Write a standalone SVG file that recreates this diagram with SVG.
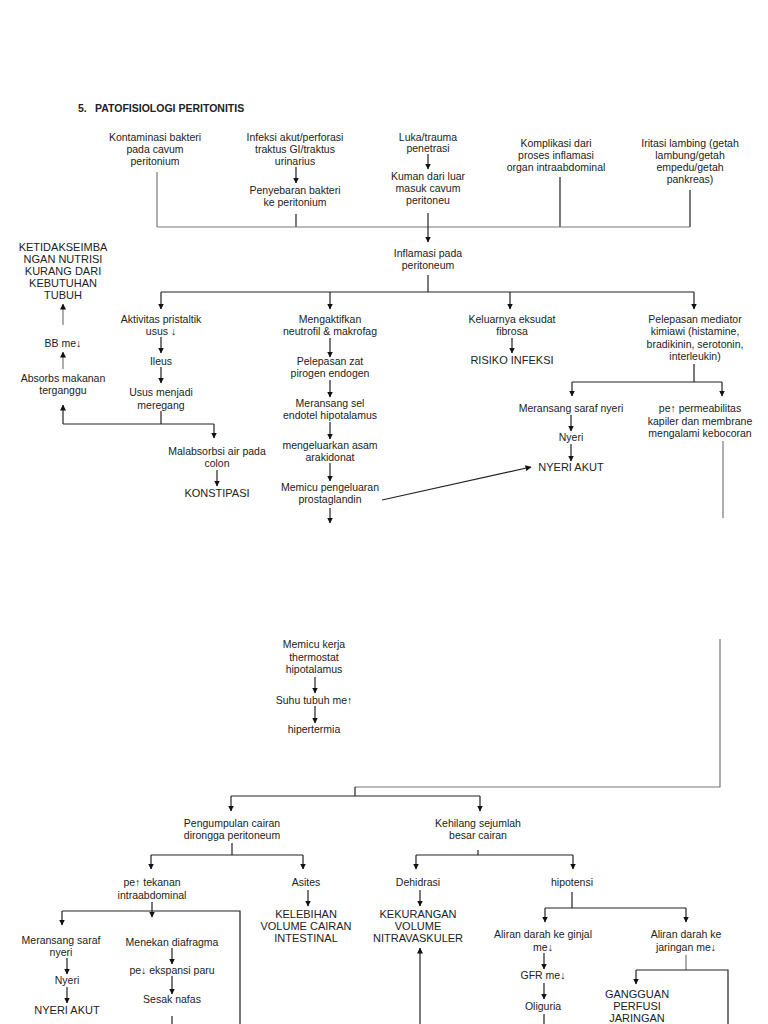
<svg xmlns="http://www.w3.org/2000/svg" width="768" height="1024" viewBox="0 0 768 1024">
<defs>
<marker id="a" viewBox="0 0 6 6" refX="5.5" refY="3" markerWidth="6" markerHeight="6" markerUnits="userSpaceOnUse" orient="auto"><path d="M0,0 L6,3 L0,6 z" fill="#111"/></marker>
<style>
text{font-family:"Liberation Sans",Arial,sans-serif;font-size:10.5px;fill:#222;text-anchor:middle}
.b{font-weight:bold;text-anchor:start;font-size:10.5px}
.u{font-size:11px}
line,polyline{stroke:#222;stroke-width:1.2;fill:none}
.ar{marker-end:url(#a)}
.g{stroke:#777}
</style>
</defs>
<rect width="768" height="1024" fill="#fff"/>
<text class="b" x="78" y="112">5.</text><text class="b" x="95" y="112">PATOFISIOLOGI PERITONITIS</text>
<g id="connectors">
<line class="g" x1="157" y1="172" x2="157" y2="227"/>
<line class="ar" x1="296" y1="167" x2="296" y2="183"/>
<line x1="296" y1="214" x2="296" y2="227"/>
<line class="ar" x1="428" y1="154" x2="428" y2="169"/>
<line x1="560" y1="177" x2="560" y2="227"/>
<line x1="690" y1="190" x2="690" y2="227"/>
<line class="g" x1="157" y1="227" x2="690" y2="227"/>
<line class="ar" x1="428" y1="213" x2="428" y2="242"/>
<line x1="428" y1="275" x2="428" y2="292"/>
<line x1="161" y1="292" x2="694" y2="292"/>
<line class="ar" x1="161" y1="292" x2="161" y2="309"/>
<line class="ar" x1="330" y1="292" x2="330" y2="309"/>
<line class="ar" x1="510" y1="292" x2="510" y2="309"/>
<line class="ar" x1="694" y1="292" x2="694" y2="309"/>
<line class="ar" x1="161" y1="337" x2="161" y2="353"/>
<line class="ar" x1="161" y1="367" x2="161" y2="383"/>
<polyline points="161,411 161,424"/>
<polyline points="63,424 214,424"/>
<line class="ar" x1="214" y1="424" x2="214" y2="438"/>
<line class="ar" x1="63" y1="424" x2="63" y2="405"/>
<line class="ar" x1="217" y1="470" x2="217" y2="486"/>
<line class="g ar" x1="63" y1="369" x2="63" y2="352"/>
<line class="g ar" x1="63" y1="325" x2="63" y2="304"/>
<line class="ar" x1="330" y1="338" x2="330" y2="357"/>
<line class="ar" x1="330" y1="380" x2="330" y2="397"/>
<line class="ar" x1="330" y1="422" x2="330" y2="439"/>
<line class="ar" x1="330" y1="463" x2="330" y2="481"/>
<line class="ar" x1="330" y1="508" x2="330" y2="523"/>
<line class="ar" x1="382" y1="500" x2="531" y2="467"/>
<line class="ar" x1="512" y1="338" x2="512" y2="353"/>
<line x1="694" y1="364" x2="694" y2="382"/>
<polyline points="572,382 722,382"/>
<line class="ar" x1="572" y1="382" x2="572" y2="396"/>
<line class="ar" x1="722" y1="382" x2="722" y2="396"/>
<line class="ar" x1="571" y1="415" x2="571" y2="431"/>
<line class="ar" x1="571" y1="444" x2="571" y2="461"/>
<line class="g" x1="723" y1="441" x2="723" y2="518"/>
<polyline class="g" points="720,639 720,787 355,787"/>
<polyline points="355,787 355,796"/>
<polyline points="231,796 480,796"/>
<line class="ar" x1="231" y1="796" x2="231" y2="811"/>
<line class="ar" x1="480" y1="796" x2="480" y2="811"/>
<line class="ar" x1="315" y1="677" x2="315" y2="693"/>
<line class="ar" x1="315" y1="706" x2="315" y2="723"/>
<line x1="232" y1="843" x2="232" y2="855"/>
<polyline points="151,855 303,855"/>
<line class="ar" x1="151" y1="855" x2="151" y2="869"/>
<line class="ar" x1="303" y1="855" x2="303" y2="869"/>
<line class="ar" x1="152" y1="902" x2="152" y2="917"/>
<polyline points="62,911 240,911 240,1024"/>
<line class="ar" x1="62" y1="911" x2="62" y2="925"/>
<line class="ar" x1="67" y1="958" x2="67" y2="974"/>
<line class="ar" x1="67" y1="987" x2="67" y2="1003"/>
<line class="ar" x1="172" y1="948" x2="172" y2="964"/>
<line class="ar" x1="172" y1="976" x2="172" y2="994"/>
<line x1="172" y1="1016" x2="172" y2="1024"/>
<line class="ar" x1="308" y1="890" x2="308" y2="906"/>
<line x1="478" y1="850" x2="478" y2="855"/>
<polyline points="416,855 573,855"/>
<line class="ar" x1="416" y1="855" x2="416" y2="869"/>
<line class="ar" x1="573" y1="855" x2="573" y2="869"/>
<line class="ar" x1="420" y1="890" x2="420" y2="906"/>
<line class="ar" x1="420" y1="1024" x2="420" y2="948"/>
<line x1="572" y1="892" x2="572" y2="908"/>
<polyline points="545,908 686,908"/>
<line class="ar" x1="545" y1="908" x2="545" y2="922"/>
<line class="ar" x1="686" y1="908" x2="686" y2="922"/>
<line class="ar" x1="544" y1="953" x2="544" y2="969"/>
<line class="ar" x1="544" y1="983" x2="544" y2="999"/>
<line x1="544" y1="1014" x2="544" y2="1024"/>
<line class="g" x1="686" y1="955" x2="686" y2="970"/>
<polyline points="636,970 728,970 728,1024"/>
<line class="ar" x1="636" y1="970" x2="636" y2="984"/>
</g>
<g id="n1"><text x="155" y="141">Kontaminasi bakteri</text><text x="155" y="153">pada cavum</text><text x="155" y="165">peritonium</text></g>
<g id="n2"><text x="295" y="141">Infeksi akut/perforasi</text><text x="295" y="153">traktus GI/traktus</text><text x="295" y="165">urinarius</text></g>
<g id="n3"><text x="295" y="194">Penyebaran bakteri</text><text x="295" y="206">ke peritonium</text></g>
<g id="n4"><text x="428" y="141">Luka/trauma</text><text x="428" y="152">penetrasi</text></g>
<g id="n5"><text x="428" y="180">Kuman dari luar</text><text x="428" y="192">masuk cavum</text><text x="428" y="204">peritoneu</text></g>
<g id="n6"><text x="556" y="147">Komplikasi dari</text><text x="556" y="159">proses inflamasi</text><text x="556" y="171">organ intraabdominal</text></g>
<g id="n7"><text x="690" y="147">Iritasi lambing (getah</text><text x="690" y="159">lambung/getah</text><text x="690" y="171">empedu/getah</text><text x="690" y="183">pankreas)</text></g>
<g id="n8"><text x="428" y="257">Inflamasi pada</text><text x="428" y="269">peritoneum</text></g>
<g id="n9"><text class="u" x="63" y="251">KETIDAKSEIMBA</text><text class="u" x="63" y="263">NGAN NUTRISI</text><text class="u" x="63" y="275">KURANG DARI</text><text class="u" x="63" y="287">KEBUTUHAN</text><text class="u" x="63" y="299">TUBUH</text></g>
<g id="n10"><text x="63" y="347">BB me↓</text></g>
<g id="n11"><text x="63" y="382">Absorbs makanan</text><text x="63" y="394">terganggu</text></g>
<g id="n12"><text x="161" y="323">Aktivitas pristaltik</text><text x="161" y="335">usus ↓</text></g>
<g id="n13"><text x="161" y="365">Ileus</text></g>
<g id="n14"><text x="161" y="396">Usus menjadi</text><text x="161" y="409">meregang</text></g>
<g id="n15"><text x="217" y="455">Malabsorbsi air pada</text><text x="217" y="467">colon</text></g>
<g id="n16"><text class="u" x="217" y="497">KONSTIPASI</text></g>
<g id="n17"><text x="330" y="323">Mengaktifkan</text><text x="330" y="335">neutrofil &amp; makrofag</text></g>
<g id="n18"><text x="330" y="365">Pelepasan zat</text><text x="330" y="377">pirogen endogen</text></g>
<g id="n19"><text x="330" y="407">Meransang sel</text><text x="330" y="419">endotel hipotalamus</text></g>
<g id="n20"><text x="330" y="449">mengeluarkan asam</text><text x="330" y="461">arakidonat</text></g>
<g id="n21"><text x="330" y="491">Memicu pengeluaran</text><text x="330" y="503">prostaglandin</text></g>
<g id="n22"><text x="512" y="323">Keluarnya eksudat</text><text x="512" y="335">fibrosa</text></g>
<g id="n23"><text class="u" x="512" y="364">RISIKO INFEKSI</text></g>
<g id="n24"><text x="695" y="323">Pelepasan mediator</text><text x="695" y="335">kimiawi (histamine,</text><text x="695" y="348">bradikinin, serotonin,</text><text x="695" y="360">interleukin)</text></g>
<g id="n25"><text x="571" y="412">Meransang saraf nyeri</text></g>
<g id="n26"><text x="571" y="441">Nyeri</text></g>
<g id="n27"><text class="u" x="571" y="471">NYERI AKUT</text></g>
<g id="n28"><text x="700" y="412">pe↑ permeabilitas</text><text x="700" y="425">kapiler dan membrane</text><text x="700" y="437">mengalami kebocoran</text></g>
<g id="n29"><text x="314" y="648">Memicu kerja</text><text x="314" y="661">thermostat</text><text x="314" y="673">hipotalamus</text></g>
<g id="n30"><text x="314" y="704">Suhu tubuh me↑</text></g>
<g id="n31"><text x="314" y="733">hipertermia</text></g>
<g id="n32"><text x="232" y="827">Pengumpulan cairan</text><text x="232" y="839">dirongga peritoneum</text></g>
<g id="n33"><text x="152" y="886">pe↑ tekanan</text><text x="152" y="899">intraabdominal</text></g>
<g id="n34"><text x="306" y="886">Asites</text></g>
<g id="n35"><text class="u" x="306" y="918">KELEBIHAN</text><text class="u" x="306" y="930">VOLUME CAIRAN</text><text class="u" x="306" y="942">INTESTINAL</text></g>
<g id="n36"><text x="61" y="944">Meransang saraf</text><text x="61" y="956">nyeri</text></g>
<g id="n37"><text x="67" y="984">Nyeri</text></g>
<g id="n38"><text class="u" x="67" y="1014">NYERI AKUT</text></g>
<g id="n39"><text x="172" y="946">Menekan diafragma</text></g>
<g id="n40"><text x="172" y="974">pe↓ ekspansi paru</text></g>
<g id="n41"><text x="172" y="1003">Sesak nafas</text></g>
<g id="n42"><text x="478" y="827">Kehilang sejumlah</text><text x="478" y="839">besar cairan</text></g>
<g id="n43"><text x="418" y="886">Dehidrasi</text></g>
<g id="n44"><text class="u" x="418" y="918">KEKURANGAN</text><text class="u" x="418" y="930">VOLUME</text><text class="u" x="418" y="942">NITRAVASKULER</text></g>
<g id="n45"><text x="572" y="886">hipotensi</text></g>
<g id="n46"><text x="543" y="938">Aliran darah ke ginjal</text><text x="543" y="951">me↓</text></g>
<g id="n47"><text x="543" y="979">GFR me↓</text></g>
<g id="n48"><text x="543" y="1010">Oliguria</text></g>
<g id="n49"><text x="686" y="938">Aliran darah ke</text><text x="686" y="951">jaringan me↓</text></g>
<g id="n50"><text class="u" x="637" y="998">GANGGUAN</text><text class="u" x="637" y="1010">PERFUSI</text><text class="u" x="637" y="1022">JARINGAN</text></g>
</svg>
